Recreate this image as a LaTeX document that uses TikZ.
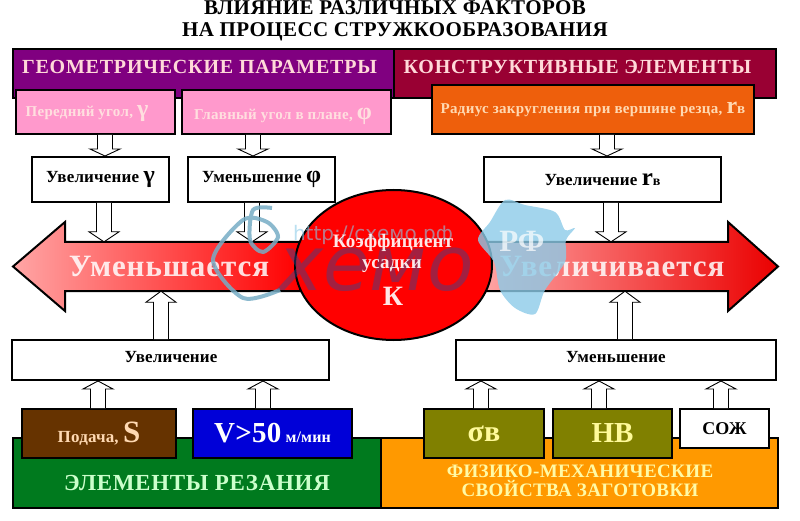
\documentclass[tikz,border=0pt]{standalone}
\usepackage{fontspec}
\setmainfont{Liberation Serif}
\newfontfamily\markfont{DejaVu Sans}
\usetikzlibrary{shapes.geometric}
\usetikzlibrary{calc}
\definecolor{purp}{HTML}{800080}
\definecolor{crim}{HTML}{990033}
\definecolor{pinkbox}{HTML}{FF99CC}
\definecolor{orangebox}{HTML}{EE5F0C}
\definecolor{brownbox}{HTML}{663300}
\definecolor{bluebox}{HTML}{0000D8}
\definecolor{greenbox}{HTML}{007A1E}
\definecolor{yellowbox}{HTML}{FF9900}
\definecolor{olivebox}{HTML}{808000}
\definecolor{splash}{HTML}{8CCBE8}
\newcommand{\sz}[1]{\fontsize{#1}{#1}\selectfont\bfseries}
\newcommand{\spc}[1]{\addfontfeature{LetterSpace=#1}}
\tikzset{
  blockarrow/.style={draw=black, fill=white, line width=.9pt,
    to path={let \p1=(\tikztostart), \p2=(\tikztotarget),
      \n1={(\y1>\y2) ? #1 : -#1} in
      (\x1-7.5pt,\y1) -- (\x1-7.5pt,\y2+\n1*1pt) -- (\x1-15pt,\y2+\n1*1pt)
      -- (\x2,\y2) -- (\x1+15pt,\y2+\n1*1pt) -- (\x1+7.5pt,\y2+\n1*1pt)
      -- (\x1+7.5pt,\y1)}},
  blockarrow/.default=8,
  box/.style 2 args={draw=black, line width=2pt, inner sep=0pt, align=center,
    minimum width=#1, minimum height=#2}
}
\begin{document}
\begin{tikzpicture}[x=1pt,y=-1pt]
  \useasboundingbox (0,0) rectangle (800,521);
  % Title
  \node[font=\sz{21}\spc{2}, align=center] (title) at (395,21)
    {ВЛИЯНИЕ РАЗЛИЧНЫХ ФАКТОРОВ\\[1pt]НА ПРОЦЕСС СТРУЖКООБРАЗОВАНИЯ};
  % Top groups
  \node[box={381}{49}, fill=purp] (geom) at (203.5,73.5) {};
  \node[box={382}{49}, fill=crim] (konstr) at (585,73.5) {};
  \node[font=\sz{20}\spc{4}, text=pink!60!white] (geomtxt) at (199.5,67) {ГЕОМЕТРИЧЕСКИЕ ПАРАМЕТРЫ};
  \node[font=\sz{20}\spc{4}, text=pink!60!white] (konstrtxt) at (577.5,67) {КОНСТРУКТИВНЫЕ ЭЛЕМЕНТЫ};
  \node[box={159}{44}, fill=pinkbox] (perednij) at (95.5,112) {};
  \node[box={209}{44}, fill=pinkbox] (glavnyj) at (286.5,112) {};
  \node[box={322}{49}, fill=orangebox, font=\sz{15}\spc{2}, text=orange!30!white] (radius) at (593,109.5)
    {Радиус закругления при вершине резца, {\sz{24}r}{\sz{15}в}};
  \node[font=\sz{15}\spc{2}, text=pink!50!white] (perednijtxt) at (87,114)
    {Передний угол, {\sz{24}γ}};
  \node[font=\sz{15}\spc{2}, text=pink!50!white] (glavnyjtxt) at (283,116)
    {Главный угол в плане, {\sz{24}φ}};
  % White boxes above the arrows
  \node[box={137}{45}, fill=white, font=\sz{17}\spc{1}] (uvelgamma) at (100.5,179.5) {Увеличение {\sz{24}γ}};
  \node[box={147}{45}, fill=white, font=\sz{17}\spc{1}] (umenphi) at (261.5,179.5) {Уменьшение {\sz{24}φ}};
  \node[box={237}{45}, fill=white, font=\sz{17}\spc{1}] (uvelr) at (602.5,179.5) {Увеличение {\sz{25}r}{\sz{14}в}};
  % Big arrows
  \draw[line width=2pt, left color=red!35!white, right color=red]
    (13,266.5) -- (65,222) -- (65,242) -- (300,242) -- (300,291) -- (65,291) -- (65,311) -- cycle;
  \draw[line width=2pt, left color=red!35!white, right color=red!92!black]
    (480,242) -- (728,242) -- (728,222) -- (778,266.5) -- (728,311) -- (728,291) -- (480,291) -- cycle;
  \node[minimum height=49, inner sep=0pt, font=\sz{31}\spc{3}, text=white, text opacity=.85] (umen) at (169,266.5) {Уменьшается};
  \node[minimum height=49, inner sep=0pt, font=\sz{31}\spc{3}, text=white, text opacity=.85] (uvel) at (612,266.5) {Увеличивается};
  % Lower white boxes
  \node[box={317}{40}, fill=white] (uvelbox) at (170.5,360) {};
  \node[box={320}{40}, fill=white] (umenbox) at (616,360) {};
  \node[font=\sz{17}\spc{1}] (uveltxt) at (171,357) {Увеличение};
  \node[font=\sz{17}\spc{1}] (umentxt) at (616,357) {Уменьшение};
  % Bottom groups
  \node[box={368}{70}, fill=greenbox] (elem) at (197,473) {};
  \node[box={397}{70}, fill=yellowbox] (phys) at (579.5,473) {};
  \node[font=\sz{23}\spc{3}, text=green!20!white] (elemtxt) at (197,483) {ЭЛЕМЕНТЫ РЕЗАНИЯ};
  \node[font=\sz{19}\spc{2}, text=yellow!35!white, align=center] (phystxt) at (580,480.5)
    {ФИЗИКО-МЕХАНИЧЕСКИЕ\\[0pt]СВОЙСТВА ЗАГОТОВКИ};
  \node[box={154}{49}, fill=brownbox, text=orange!30!white, font=\sz{17}\spc{1}] (podacha) at (99,433.5) {Подача, {\sz{31}S}};
  \node[box={159}{49}, fill=bluebox, text=white, font=\sz{16}\spc{1}] (speed) at (272.5,433.5) {{\sz{29}V>50} м/мин};
  \node[box={120}{49}, fill=olivebox, text=yellow!40!white, font=\sz{30}] (sigma) at (484,433.5) {σв};
  \node[box={119}{49}, fill=olivebox, text=yellow!40!white, font=\sz{29}] (hard) at (612.5,433.5) {НВ};
  \node[box={89}{39}, fill=white, font=\sz{18}] (cool) at (724.5,428.5) {СОЖ};
  % Columns of the block arrows
  \coordinate (c1) at (105,0);
  \coordinate (c2) at (253,0);
  \coordinate (c3) at (607,0);
  \coordinate (d1) at (104,0);
  \coordinate (d2) at (252,0);
  \coordinate (d3) at (611,0);
  \coordinate (u1) at (161,0);
  \coordinate (u2) at (625,0);
  \coordinate (b1) at (98,0);
  \coordinate (b2) at (263,0);
  \coordinate (b3) at (481,0);
  \coordinate (b4) at (599,0);
  \coordinate (b5) at (721,0);
  \draw[blockarrow=7] (c1 |- perednij.south) to (c1 |- uvelgamma.north);
  \draw[blockarrow=7] (c2 |- glavnyj.south) to (c2 |- umenphi.north);
  \draw[blockarrow=7] (c3 |- radius.south) to (c3 |- uvelr.north);
  \draw[blockarrow=10] (d1 |- uvelgamma.south) to (d1 |- umen.north);
  \draw[blockarrow=10] (d2 |- umenphi.south) to (d2 |- umen.north);
  \draw[blockarrow=10] (d3 |- uvelr.south) to (d3 |- uvel.north);
  \draw[blockarrow=11] (u1 |- uvelbox.north) to (u1 |- umen.south);
  \draw[blockarrow=11] (u2 |- umenbox.north) to (u2 |- uvel.south);
  \draw[blockarrow=8] (b1 |- podacha.north) to (b1 |- uvelbox.south);
  \draw[blockarrow=8] (b2 |- speed.north) to (b2 |- uvelbox.south);
  \draw[blockarrow=8] (b3 |- sigma.north) to (b3 |- umenbox.south);
  \draw[blockarrow=8] (b4 |- hard.north) to (b4 |- umenbox.south);
  \draw[blockarrow=8] (b5 |- cool.north) to (b5 |- umenbox.south);
  % Centre
  \node[ellipse, draw=black, line width=2pt, fill=red, minimum width=197, minimum height=150, inner sep=0pt] (koef) at (393.5,265) {};
  \fill[splash, opacity=.8] plot[smooth cycle] coordinates {(505,200) (525,205) (555,212) (565,230) (575,228)
    (566,240) (565,262) (545,290) (535,314) (515,308) (500,290) (494,262) (478,240) (490,222)};
  \node[font=\markfont\fontsize{20}{20}\selectfont, text=splash, opacity=.6] (site) at (373,235) {http://схемо.рф};
  % Logo
  \draw[splash!85!black, line width=4pt, opacity=.85] plot[smooth] coordinates {(272,208) (253,210) (250,240) (263,252)
    (278,237) (267,222) (243,220) (213,260) (243,298) (280,290)};
  \node[font=\markfont\itshape\fontsize{76}{76}\selectfont, text=splash!60!blue!60!black, opacity=.45] (logo) at (376,270) {хемо};
  \node[font=\sz{19}\spc{1}, text=white, text opacity=.9] (koeftxt) at (393,243) {Коэффициент};
  \node[font=\sz{19}\spc{1}, text=white, text opacity=.9] (usadka) at (392,266) {усадки};
  \node[font=\sz{28}, text=white, text opacity=.9] (kk) at (393,296) {К};
  \node[font=\sz{31}, text=white, text opacity=.7] (rf) at (522,241) {РФ};
\end{tikzpicture}
\end{document}
